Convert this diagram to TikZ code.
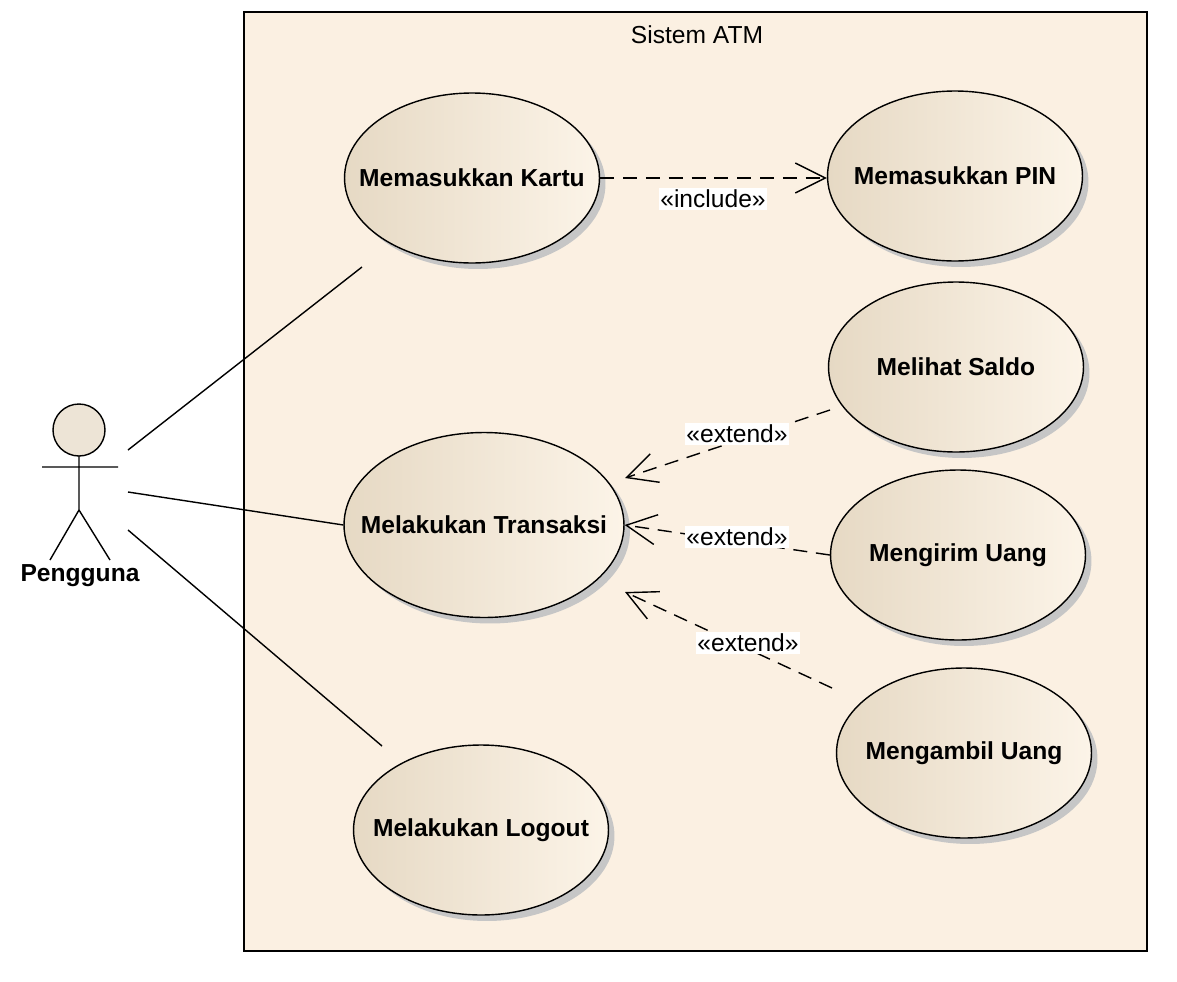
\documentclass[tikz,border=0pt]{standalone}
\usepackage{fontspec}
\setmainfont{Liberation Sans}
\usetikzlibrary{shapes.geometric,arrows.meta,shadows}
\definecolor{sysfill}{HTML}{FBF0E2}
\definecolor{ucleft}{HTML}{E6D9C4}
\definecolor{ucright}{HTML}{FCF4E8}
\tikzset{
  usecase/.style={draw, thick, ellipse, inner xsep=-3cm, inner ysep=0pt, minimum width=5.1cm, minimum height=3.4cm,
    left color=ucleft, right color=ucright, font=\fontsize{14}{16}\selectfont\bfseries,
    drop shadow={shadow xshift=1.2mm, shadow yshift=-1.2mm, fill=gray!45, opacity=1}},
  rel/.style={thick, dash pattern=on 8pt off 5pt, -{Straight Barb[length=6mm,width=6mm]}},
  stereo/.style={fill=white, inner sep=1pt, font=\fontsize{14}{16}\selectfont}
}
\begin{document}
\begin{tikzpicture}[x=0.02cm, y=-0.02cm]
\useasboundingbox (0,0) rectangle (1177,981);
% system boundary
\draw[thick, fill=sysfill] (244,12) rectangle (1147,951);
\node[font=\fontsize{14}{16}\selectfont] (sys) at (697,35) {Sistem ATM};

% use cases
\node[usecase] (kartu) at (472,178) {Memasukkan Kartu};
\node[usecase] (pin) at (955,176) {Memasukkan PIN};
\node[usecase] (saldo) at (956,367) {Melihat Saldo};
\node[usecase, minimum width=5.6cm, minimum height=3.7cm] (transaksi) at (484,525) {Melakukan Transaksi};
\node[usecase] (kirim) at (958,555) {Mengirim Uang};
\node[usecase] (ambil) at (964,753) {Mengambil Uang};
\node[usecase] (logout) at (481,830) {Melakukan Logout};

% actor
\draw[thick, fill=ucleft!70] (79,430) circle (26);
\draw[thick] (79,456) -- (79,510) (42,467) -- (118,467) (50,560) -- (79,510) -- (110,560);
\node[font=\fontsize{14}{16}\selectfont\bfseries] (pengguna) at (80,576) {Pengguna};
\coordinate (a1) at (128,450);
\coordinate (a2) at (128,492);
\coordinate (a3) at (128,530);

% associations
\draw[thick] (a1) -- (362,267) coordinate (k1);
\draw[thick] (a2) -- (transaksi.west);
\draw[thick] (a3) -- (382,746) coordinate (l1);

% include / extend
\draw[rel] (kartu.east) -- (kartu.east -| pin.west);
\node[stereo] (inc) at (713,199) {«include»};
\coordinate (s1) at (830,410);
\draw[rel] (s1) -- (625,478) coordinate (t1);
\node[stereo] (ext1) at (737,434) {«extend»};
\draw[rel] (kirim.west) -- (transaksi.east);
\node[stereo] (ext2) at (737,537) {«extend»};
\coordinate (m1) at (832,688);
\draw[rel] (m1) -- (625,592) coordinate (t3);
\node[stereo] (ext3) at (748,643) {«extend»};
\end{tikzpicture}
\end{document}
